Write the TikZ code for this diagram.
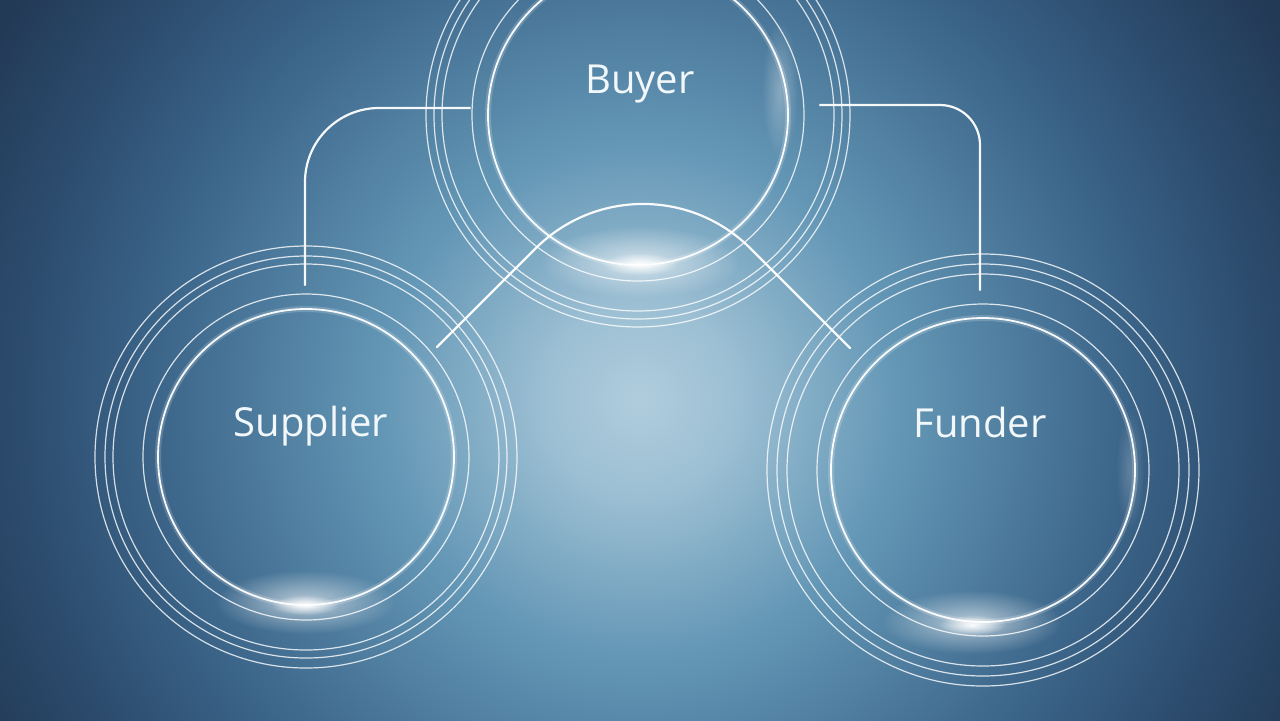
\documentclass[tikz,border=0pt]{standalone}
\usepackage{fontspec}
\setmainfont{Open Sans}
\usetikzlibrary{fadings}
\definecolor{bgA}{HTML}{B0CDDD}
\definecolor{bgA2}{HTML}{9CBFD3}
\definecolor{bgB}{HTML}{6497B6}
\definecolor{bgC}{HTML}{3C668A}
\definecolor{bgD}{HTML}{2D4E70}
\definecolor{bgE}{HTML}{233A57}
\definecolor{txt}{HTML}{F2F7FA}
\pgfdeclareradialshading{bgshade}{\pgfpoint{0bp}{0bp}}{color(0bp)=(bgA); color(3bp)=(bgA2); color(8bp)=(bgB); color(15bp)=(bgC); color(19bp)=(bgD); color(23bp)=(bgE); color(50bp)=(bgE)}
\tikzfading[name=glowfade, inner color=transparent!0, outer color=transparent!100]
\tikzset{
  ring/.style={draw=white, draw opacity=0.8, line width=0.6pt},
  innerglow/.style={draw=white, draw opacity=0.18, line width=3pt},
  innerline/.style={draw=white, draw opacity=0.95, line width=0.9pt},
  conn/.style={draw=white, draw opacity=0.95, line width=1.1pt, line cap=round},
  label/.style={text=txt, font=\fontsize{20}{24}\selectfont, anchor=base},
  glow/.style={fill=white, path fading=glowfade},
  hub/.style={circle, inner sep=0pt}
}
\begin{document}
\begin{tikzpicture}[x=0.5pt,y=-0.5pt]
\useasboundingbox (0,0) rectangle (1280,720);
\clip (0,0) rectangle (1280,720);
\fill[bgE] (0,0) rectangle (1280,720);
\shade[shading=bgshade] (640,400) circle (800);

% ring centres
\node[hub, minimum size=170pt] (buyer) at (638,115) {};
\node[hub, minimum size=170pt] (supplier) at (306,457) {};
\node[hub, minimum size=170pt] (funder) at (983,470) {};

% Buyer rings
\foreach \r in {166,196,204,212} \draw[ring] (buyer.center) circle (\r);
\draw[innerglow] (buyer.center) circle (150);
\draw[innerline] (buyer.center) circle (150);
% Supplier rings
\foreach \r in {163,193,201,211} \draw[ring] (supplier.center) circle (\r);
\draw[innerglow] (supplier.center) circle (148);
\draw[innerline] (supplier.center) circle (148);
% Funder rings
\foreach \r in {166,196,206,216} \draw[ring] (funder.center) circle (\r);
\draw[innerglow] (funder.center) circle (152);
\draw[innerline] (funder.center) circle (152);

% glows
\fill[glow, opacity=0.6] (640,262) ellipse (100 and 36);
\fill[glow, opacity=0.95] (640,264) ellipse (38 and 11);
\fill[glow, opacity=0.6] (305,602) ellipse (90 and 32);
\fill[glow, opacity=0.95] (305,605) ellipse (34 and 10);
\fill[glow, opacity=0.6] (972,622) ellipse (90 and 32);
\fill[glow, opacity=0.95] (972,625) ellipse (34 and 10);
\fill[glow, opacity=0.3] (780,90) ellipse (18 and 70);
\fill[glow, opacity=0.2] (1130,470) ellipse (14 and 60);

% connector end points
\coordinate (bl) at (470,108);
\coordinate (st) at (305,285);
\coordinate (br) at (820,105);
\coordinate (ft) at (980,290);
\coordinate (as) at (437,347);
\coordinate (apex) at (643,141);
\coordinate (ae) at (850,348);

\draw[conn, rounded corners=37pt] (bl) -| (st);
\draw[conn, rounded corners=20pt] (br) -| (ft);
\draw[conn, rounded corners=76pt] (as) -- (apex) -- (ae);

% labels
\node[label] (lb) at (640,93) {Buyer};
\node[label] (ls) at (311,436) {Supplier};
\node[label] (lf) at (980,437) {Funder};
\end{tikzpicture}
\end{document}
